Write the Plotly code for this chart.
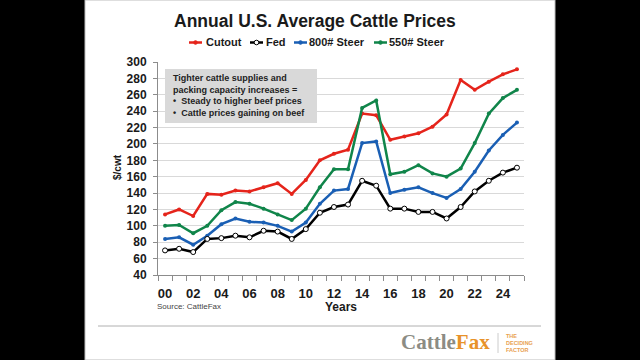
import plotly.graph_objects as go

# ---- data ----
years = list(range(2000, 2026))
tick_years = list(range(2000, 2025, 2))
tick_labels = ["00", "02", "04", "06", "08", "10", "12", "14", "16", "18", "20", "22", "24"]
y_ticks = list(range(40, 301, 20))

cutout = [114, 120, 112, 139, 138, 143, 142, 147, 152, 139, 156, 180, 188, 193,
          237, 235, 205, 209, 213, 221, 236, 278, 266, 276, 285, 291]
fed = [70, 72, 68, 84, 85, 88, 86, 94, 93, 84, 96, 116, 123, 126,
       155, 149, 121, 121, 117, 117, 109, 123, 142, 155, 165, 171]
steer800 = [84, 86, 77, 88, 102, 109, 105, 104, 100, 93, 104, 127, 143, 145,
            201, 203, 140, 144, 147, 140, 134, 145, 166, 192, 211, 226]
steer550 = [100, 101, 91, 100, 119, 129, 127, 121, 114, 107, 121, 147, 169, 169,
            244, 253, 163, 166, 174, 164, 160, 170, 201, 237, 256, 266]

series_names = ["Cutout", "Fed", "800# Steer", "550# Steer"]

RED = "#e5241b"
BLACK = "#000000"
BLUE = "#1a5fb4"
GREEN = "#10854a"
FONT = "Liberation Sans, Arial, sans-serif"

# ---- layout helpers (pixel -> paper) ----
W, H = 640, 360
L, R, T, B = 158, 524, 62, 275


def px(x):
    return (x - L) / (R - L)


def py(y):
    return (B - y) / (B - T)


fig = go.Figure()

fig.add_trace(go.Scatter(x=years, y=cutout, mode="lines+markers", name=series_names[0],
                         line=dict(color=RED, width=2.5), marker=dict(size=4, color=RED)))
fig.add_trace(go.Scatter(x=years, y=steer550, mode="lines+markers", name=series_names[3],
                         line=dict(color=GREEN, width=2.5), marker=dict(size=4, color=GREEN)))
fig.add_trace(go.Scatter(x=years, y=steer800, mode="lines+markers", name=series_names[2],
                         line=dict(color=BLUE, width=2.5), marker=dict(size=4, color=BLUE)))
fig.add_trace(go.Scatter(x=years, y=fed, mode="lines+markers", name=series_names[1],
                         line=dict(color=BLACK, width=2.5),
                         marker=dict(size=5, color="white", line=dict(color=BLACK, width=1))))

shapes = []
annotations = []

# slide background (white panel on black)
shapes.append(dict(type="rect", xref="paper", yref="paper", layer="below",
                   x0=px(85), x1=px(555), y0=py(360), y1=py(0),
                   fillcolor="white", line=dict(color="#bdbdbd", width=1)))

# info box
shapes.append(dict(type="rect", xref="paper", yref="paper",
                   x0=px(165), x1=px(317), y0=py(123), y1=py(69),
                   fillcolor="#d9d9d9", line=dict(width=0)))
annotations.append(dict(xref="paper", yref="paper", x=px(171), y=py(71),
                        xanchor="left", yanchor="top", align="left", showarrow=False,
                        text="Tighter cattle supplies and<br>packing capacity increases =<br>"
                             "•  Steady to higher beef prices<br>•  Cattle prices gaining on beef",
                        font=dict(family=FONT, size=9, color="#222222", weight="bold")))

# title
annotations.append(dict(xref="paper", yref="paper", x=px(315), y=py(21),
                        xanchor="center", yanchor="middle", showarrow=False,
                        text="Annual U.S. Average Cattle Prices",
                        font=dict(family=FONT, size=17.5, color="#1a1a1a", weight="bold")))

# manual legend
legend_items = [
    (189, 204, series_names[0], RED, False),
    (250, 264, series_names[1], BLACK, True),
    (294, 307, series_names[2], BLUE, False),
    (374, 387, series_names[3], GREEN, False),
]
LY = 42.5
for x0, tx, name, col, open_m in legend_items:
    shapes.append(dict(type="line", xref="paper", yref="paper",
                       x0=px(x0), x1=px(x0 + 13), y0=py(LY), y1=py(LY),
                       line=dict(color=col, width=2.5)))
    cx = x0 + 6.5
    r = 2.3 if open_m else 1.8
    shapes.append(dict(type="circle", xref="paper", yref="paper",
                       x0=px(cx - r), x1=px(cx + r), y0=py(LY + r), y1=py(LY - r),
                       fillcolor="white" if open_m else col,
                       line=dict(color=col, width=1)))
    annotations.append(dict(xref="paper", yref="paper", x=px(tx), y=py(LY),
                            xanchor="left", yanchor="middle", showarrow=False, text=name,
                            font=dict(family=FONT, size=11, color="#1a1a1a", weight="bold")))

# y axis title
annotations.append(dict(xref="paper", yref="paper", x=px(117), y=py(167),
                        xanchor="center", yanchor="middle", showarrow=False, textangle=-90,
                        text="$/cwt", font=dict(family=FONT, size=10, color="#1a1a1a", weight="bold")))
# x axis title
annotations.append(dict(xref="paper", yref="paper", x=px(340.5), y=py(307),
                        xanchor="center", yanchor="middle", showarrow=False,
                        text="Years", font=dict(family=FONT, size=12, color="#1a1a1a", weight="bold")))
# source
annotations.append(dict(xref="paper", yref="paper", x=px(155), y=py(306),
                        xanchor="left", yanchor="middle", showarrow=False,
                        text="Source: CattleFax", font=dict(family=FONT, size=8, color="#444444")))

# separator line
shapes.append(dict(type="line", xref="paper", yref="paper",
                   x0=px(98), x1=px(541), y0=py(326), y1=py(326),
                   line=dict(color="#b0b0b0", width=1)))

# logo
annotations.append(dict(xref="paper", yref="paper", x=px(445), y=py(342),
                        xanchor="center", yanchor="middle", showarrow=False,
                        text="<span style='color:#8c8c84'>Cattle</span><span style='color:#e8922a'>Fax</span>",
                        font=dict(family="Liberation Serif, Times New Roman, serif",
                                  size=21, weight="bold")))
shapes.append(dict(type="line", xref="paper", yref="paper",
                   x0=px(498), x1=px(498), y0=py(333), y1=py(353),
                   line=dict(color="#cccccc", width=1)))
for yy, t in [(336, "THE"), (343, "DECIDING"), (350, "FACTOR")]:
    annotations.append(dict(xref="paper", yref="paper", x=px(504), y=py(yy),
                            xanchor="left", yanchor="middle", showarrow=False, text=t,
                            font=dict(family=FONT, size=5.5, color="#e8a050", weight="bold")))

fig.update_layout(
    width=W, height=H,
    margin=dict(l=L, r=W - R, t=T, b=H - B, pad=0),
    paper_bgcolor="black",
    plot_bgcolor="white",
    showlegend=False,
    shapes=shapes,
    annotations=annotations,
    font=dict(family=FONT, color="#1a1a1a"),
)

fig.update_xaxes(
    range=[1999.5, 2025.5], tickmode="array", tickvals=tick_years, ticktext=tick_labels,
    ticks="outside", ticklen=6, tickcolor="rgba(0,0,0,0)",
    tickfont=dict(family=FONT, size=13, color="#1a1a1a", weight="bold"),
    showgrid=False, zeroline=False,
    showline=True, linecolor="#8c8c8c", linewidth=1,
    minor=dict(tick0=1999.5, dtick=1, ticks="outside", ticklen=5, tickcolor="#8c8c8c", showgrid=False),
)
fig.update_yaxes(
    range=[40, 300], tickmode="array", tickvals=y_ticks,
    ticks="outside", ticklen=4, tickcolor="#8c8c8c", ticklabelstandoff=4,
    tickfont=dict(family=FONT, size=12, color="#1a1a1a", weight="bold"),
    showgrid=True, gridcolor="#d9d9d9", gridwidth=1, zeroline=False,
    showline=True, linecolor="#8c8c8c", linewidth=1,
)

fig.write_html("out.html", config={"displayModeBar": False},
               post_script="document.body.style.margin='0';document.body.style.background='black';")
